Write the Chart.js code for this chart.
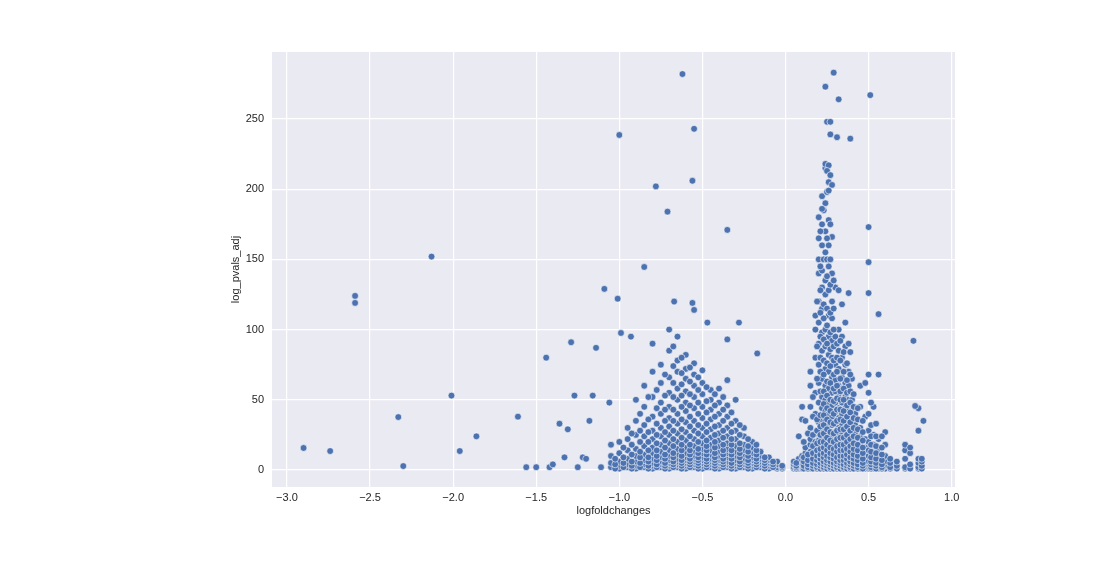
<!DOCTYPE html>
<html><head><meta charset="utf-8">
<script src="https://cdn.jsdelivr.net/npm/chart.js@4/dist/chart.umd.min.js"></script>
<style>html,body{margin:0;padding:0;background:#fff}#w{width:1104px;height:574px}</style>
</head><body><div id="w"><canvas id="c"></canvas></div>
<script>
// Dense clouds: one x per column, list of y values per column
const columnX = [-1.05,-1.0,-0.95,-0.9,-0.85,-0.8,-0.75,-0.7,-0.65,-0.6,-0.55,-0.5,-0.45,-0.4,-0.35,-0.3,-0.25,-0.2,-0.15,-0.1,-0.05,-0.02,
  0.05,0.08,0.1,0.12,0.15,0.18,0.2,0.22,0.24,0.26,0.28,0.3,0.32,0.34,0.36,0.38,0.4,0.42,0.45,0.48,0.5,0.53,0.56,0.6,0.63,0.67,0.72,0.75,0.8,0.82];
const columnY = [
 [2,5,10,18],[1,3,6,12,20],[2,4,8,14,22,30],[1,3,6,10,15,25,35,50],[2,4,7,11,17,24,32,45,60],
 [1,3,5,8,12,16,22,28,38,52,70,90],[2,4,6,9,13,18,24,30,40,48,62,75],[1,3,5,7,10,14,19,25,31,37,45,55,66,85,100],
 [2,4,6,8,11,15,20,26,33,40,50,58,70,78,95],[1,3,5,7,9,12,16,21,27,34,42,48,56,65,72,82],
 [2,4,6,8,10,13,17,22,28,35,44,52,60,68,76],[1,3,5,7,9,12,15,19,24,30,37,45,54,62,71],
 [2,4,6,8,11,14,18,23,29,36,43,50,57],[1,3,5,7,10,13,17,21,26,32,40,48,58],[2,4,6,9,12,15,19,24,30,38,46,64],
 [1,3,5,7,10,13,17,22,28,35,50],[2,4,6,8,11,14,18,24,30],[1,3,5,7,9,12,16,20],[2,4,6,8,10,13],[1,3,5,7,9],[1,2,4,6],[1,2,3],
 [1,2,4,6],[1,3,5,8,24],[1,2,4,7,10,45,36],[1,3,5,8,12,16,35],[1,2,4,6,9,13,18,22,30,45,60,70],
 [1,3,5,8,11,15,20,26,40,55,80,100,110],[1,2,4,6,9,12,16,21,27,34,48,62,75,90,105,120,140,150,165,180],
 [1,3,5,7,10,14,18,23,29,36,44,52,65,85,98,115,130,142,160,175,195],
 [1,2,4,6,9,13,17,22,28,35,42,50,60,72,88,100,125,135,155,170,190,215],
 [1,3,5,8,11,15,20,26,33,40,48,58,70,82,95,110,128,145,160,178,205],
 [1,2,4,7,10,14,19,25,32,38,46,55,66,80,92,108,120,140,166],[1,3,5,8,12,16,21,27,34,41,48,56,64,75,95,130],
 [1,2,4,6,9,13,18,24,30,37,44,52,60,72,85,100,128],[1,3,5,8,11,15,20,26,33,40,48,58,66,80,95,118],
 [1,2,4,7,10,14,19,24,30,36,44,52,62,75,88,105],[1,3,5,8,12,16,21,27,34,42,50,60,70,90,126],
 [1,2,4,6,9,13,17,22,28,35,42,50,65],[1,3,5,8,11,15,20,26,32,40],[1,2,4,7,10,14,18,24,30,45,60],
 [1,3,5,8,12,16,22,38,62],[1,2,4,6,10,14,20,28,40,55,68],[1,3,5,8,12,18,25,45],[1,2,4,7,10,15,22,68],
 [1,3,6,10,18,27],[1,2,5,8],[1,3,6],[1,2,8,14,18],[1,4,12,16],[1,2,5,8,28,44],[1,3,6,8]
];
// In-between columns that fill the dense clouds
const fillX = [-1.025,-0.975,-0.925,-0.875,-0.825,-0.775,-0.725,-0.675,-0.625,-0.575,-0.525,-0.475,-0.425,-0.375,-0.325,-0.275,-0.225,-0.175,-0.125,-0.075,
  0.065,0.11,0.135,0.165,0.19,0.21,0.23,0.25,0.27,0.29,0.31,0.33,0.35,0.37,0.39,0.41,0.435,0.465,0.515,0.545,0.58];
const fillY = [
 [1,4,8],[2,5,9,16],[1,3,6,11,18,26],[2,5,9,13,20,28,40],[1,3,6,9,14,20,27,36,52],
 [2,4,7,10,14,19,25,33,44,57],[1,3,5,8,11,16,21,27,35,43,53,68],[2,4,6,9,12,17,22,28,35,43,52,62,74,88],
 [1,3,5,7,10,14,18,23,29,36,45,53,61,69,80],[2,4,6,8,11,14,18,24,31,38,46,54,63,73],
 [1,3,5,7,9,12,15,20,26,32,40,48,57,66],[2,4,6,8,11,14,17,21,27,33,41,49,59],
 [1,3,5,7,9,12,16,20,25,31,38,46,54],[2,4,6,8,11,14,18,23,28,35,43,52],[1,3,5,8,11,14,18,22,27,33,41],
 [2,4,6,9,12,15,19,25,32],[1,3,5,7,10,13,17,22],[2,4,6,8,11,14,18],[1,3,5,7,9],[2,4,6],
 [1,2,3,5],[1,3,6,9,20],[1,2,4,7,11,26],[1,3,5,8,12,17,25,38,52],[1,2,4,7,10,14,19,28,36,65,88,120],
 [1,3,5,8,11,15,20,25,31,39,56,70,80,95,112,128,145,170],[1,2,4,6,9,12,16,20,26,32,39,47,56,68,78,93,108,118,150,185],
 [1,3,5,7,10,14,18,23,29,36,44,53,63,76,90,103,115,138,150,165,198],[1,2,4,6,9,12,16,21,27,34,42,50,62,74,86,98,112,132,150,175],
 [1,3,5,8,11,15,20,26,33,40,49,58,68,78,88,100,115,135],[1,2,4,6,9,13,17,22,28,35,43,51,60,70,80,90],
 [1,3,5,7,10,14,18,23,29,36,43,50,56,65,78,92],[1,2,4,7,10,14,18,23,29,35,42,50,58,70,84],
 [1,3,5,8,11,15,20,25,31,38,46,55,64,76],[1,2,4,6,9,13,17,22,28,34,41,48,56,68,84],
 [1,3,5,8,11,15,19,24,30,37,45,54],[1,2,4,7,10,14,18,23,29,36,44],[1,3,5,8,12,16,21,27,35],
 [1,2,4,6,9,13,18,24,32,48],[1,3,5,8,12,17,24,33],[1,2,4,7,11,16,24],[1,3,5,9,14,20]
];
// Sparse outliers
const outlierX = [-2.9,-2.74,-2.59,-2.59,-2.33,-2.3,-2.13,-2.01,-1.96,-1.86,-1.61,-1.56,-1.5,-1.44,-1.42,-1.4,-1.36,-1.33,-1.31,-1.29,-1.27,-1.25,-1.22,-1.2,-1.18,-1.16,-1.14,-1.11,-1.09,-1.06,-1.01,-1.0,-0.99,-0.93,-0.78,-0.71,-0.85,-0.62,-0.55,-0.56,-0.35,-0.35,-0.28,-0.17,-0.56,-0.55,-0.47,-0.67,
  0.29,0.24,0.32,0.51,0.25,0.27,0.27,0.31,0.39,0.24,0.26,0.25,0.27,0.28,0.26,0.22,0.5,0.5,0.5,0.56,0.77,0.78,0.83];
const outlierY = [15.7,13.5,124,119,37.7,2.8,152,53,13.5,24,38,2,2,80,2,4,33,9,29,91,53,2,9,8,35,53,87,2,129,48,122,238.6,97.6,95,202,184,144.6,282,243,206,171,93,105,83,119,114,105,120,
  283,273,264,267,248,248,239,237,236,218,217,213,210,203,199,186,173,148,126,111,92,45.6,35];

const pts = [];
columnX.forEach((x,i)=>columnY[i].forEach(y=>pts.push({x,y})));
fillX.forEach((x,i)=>fillY[i].forEach(y=>pts.push({x,y})));
outlierX.forEach((x,i)=>pts.push({x,y:outlierY[i]}));

const bgPlugin={id:'bg',beforeDraw(c){const a=c.chartArea,g=c.ctx;g.save();g.fillStyle='#EAEAF2';g.fillRect(a.left,a.top,a.right-a.left,a.bottom-a.top);g.restore();}};
const font={family:'"Liberation Sans", Arial, sans-serif',size:11};
new Chart(document.getElementById('c'),{
 type:'scatter',
 data:{datasets:[{data:pts,backgroundColor:'#4C72B0',borderColor:'#ffffff',borderWidth:0.6,pointRadius:3.4}]},
 options:{responsive:true,maintainAspectRatio:false,animation:false,
  layout:{padding:{left:225,right:149,top:52,bottom:52}},
  plugins:{legend:{display:false},tooltip:{enabled:false}},
  scales:{
   x:{type:'linear',min:-3.09,max:1.02,afterFit(s){s.height=35;},
      afterBuildTicks(s){s.ticks=[-3,-2.5,-2,-1.5,-1,-0.5,0,0.5,1].map(v=>({value:v}));},
      ticks:{color:'#262626',font,padding:4,callback:v=>v.toFixed(1).replace('-','−')},
      grid:{color:'#ffffff',lineWidth:1.2,drawTicks:false},border:{display:false},
      title:{display:true,text:'logfoldchanges',color:'#262626',font,padding:{top:2}}},
   y:{type:'linear',min:-12.1,max:297.7,afterFit(s){s.width=47;},
      afterBuildTicks(s){s.ticks=[0,50,100,150,200,250].map(v=>({value:v}));},
      ticks:{color:'#262626',font,padding:8},
      grid:{color:'#ffffff',lineWidth:1.2,drawTicks:false},border:{display:false},
      title:{display:true,text:'log_pvals_adj',color:'#262626',font,padding:{bottom:2}}}
  }},
 plugins:[bgPlugin]
});
</script></body></html>
